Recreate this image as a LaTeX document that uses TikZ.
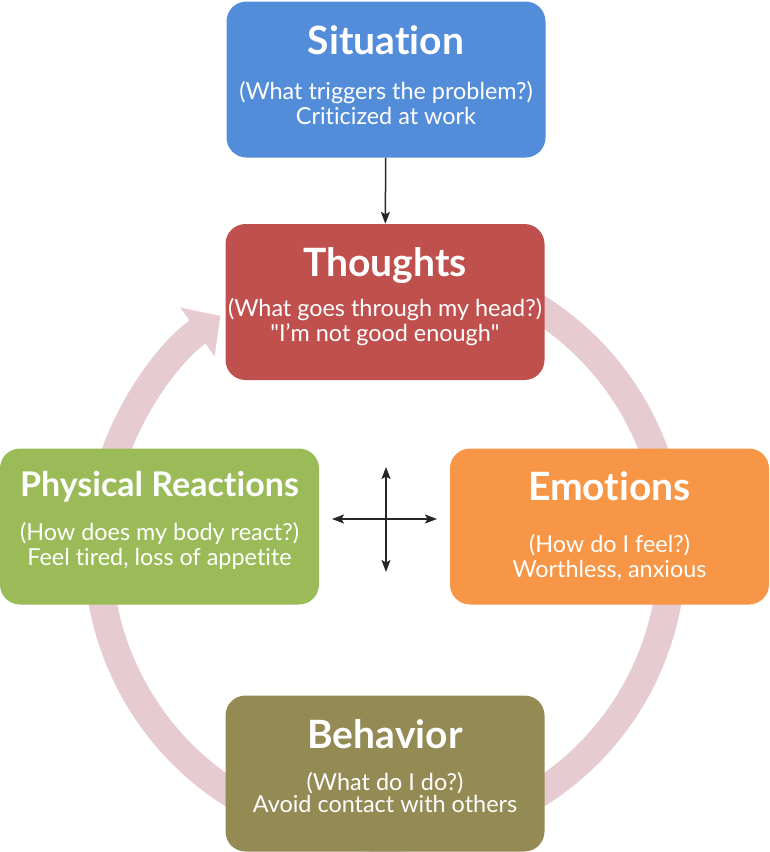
\documentclass[tikz,border=0pt]{standalone}
\usepackage{fontspec}
\setmainfont{Lato}[Ligatures={NoCommon}]
\usetikzlibrary{positioning}
\usetikzlibrary{arrows.meta}
\definecolor{situationblue}{HTML}{538DDA}
\definecolor{thoughtsred}{HTML}{C0504D}
\definecolor{physicalgreen}{HTML}{9BBB59}
\definecolor{emotionsorange}{HTML}{F79646}
\definecolor{behaviorolive}{HTML}{948A54}
\definecolor{cyclepink}{HTML}{E6CCD0}
% text font of the boxes, fixed line distance
\newcommand{\boxfont}{\fontsize{23.4}{25}\selectfont\lineskiplimit=-100pt\relax}
\tikzset{
        boxnode/.style={align=center, inner sep=0pt, rectangle, rounded corners=20pt, text=white,
            minimum width=319pt, minimum height=156pt, font=\boxfont},
        % Situation node
        node_situation/.style={boxnode, fill=situationblue},
        % Thoughts node
        node_thoughts/.style={boxnode, fill=thoughtsred},
        % Physical reactions node
        node_physical/.style={boxnode, fill=physicalgreen},
        % Emotions node
        node_emotions/.style={boxnode, fill=emotionsorange},
        % Behavior node
        node_behavior/.style={boxnode, fill=behaviorolive},
        % Cycle arrow
        cycle_arrow/.style={cyclepink, line width=28pt, -{Triangle[width=58pt, length=28pt]}},
        % Black arrows
        link_arrow/.style={line width=1.5pt, black!85, -{Stealth[length=12pt, width=9pt, inset=2.5pt]}},
        cross_arrow/.style={link_arrow, {Stealth[length=12pt, width=9pt, inset=2.5pt]}-{Stealth[length=12pt, width=9pt, inset=2.5pt]}}
}
% title line with a fixed height, last line with a fixed depth
\newcommand{\boxtitle}[2][39]{{\fontsize{#1}{#1}\selectfont\bfseries\rule{0pt}{30pt}#2}}
\newcommand{\boxend}[1]{\rule[-#1]{0pt}{#1}}

\begin{document}
\begin{tikzpicture}[x=1pt, y=1pt]
            \useasboundingbox (0,0) rectangle (769,-852);
            \coordinate (cycle_center) at (385,-551);
            \draw[cycle_arrow] (cycle_center) ++(70:287) arc[start angle=70, end angle=-235, radius=287];

            \node[node_situation] (situation) at (386,-79.5)
                {\boxtitle{Situation}\\[20pt] (What triggers the problem?)\\ Criticized at work\boxend{10pt}};
            \node[node_thoughts] (thoughts) at (385,-302)
                {\boxtitle{Thoughts}\\[15pt] (What goes through my head?)\\ \textquotedbl I’m not good enough\textquotedbl\boxend{17pt}};
            \node[node_physical] (physical) at (159.5,-526.5)
                {\boxtitle[34]{Physical Reactions}\\[19pt] (How does my body react?)\\ Feel tired, loss of appetite\boxend{21pt}};
            \node[node_emotions] (emotions) at (609.5,-526.5)
                {\boxtitle{Emotions}\\[27pt] (How do I feel?)\\ Worthless, anxious\boxend{5pt}};
            \node[node_behavior] (behavior) at (385,-773.5)
                {\boxtitle{Behavior}\\[17pt] (What do I do?)\\[-3pt] Avoid contact with others\boxend{17pt}};

            \draw[link_arrow] (situation) -- (thoughts);

            % Cross in the middle
            \coordinate (cross_left) at (332,-519);
            \coordinate (cross_right) at (437,-519);
            \coordinate (cross_top) at (386,-467);
            \coordinate (cross_bottom) at (386,-572);
            \draw[cross_arrow] (cross_left) -- (cross_right);
            \draw[cross_arrow] (cross_top) -- (cross_bottom);
\end{tikzpicture}
\end{document}
